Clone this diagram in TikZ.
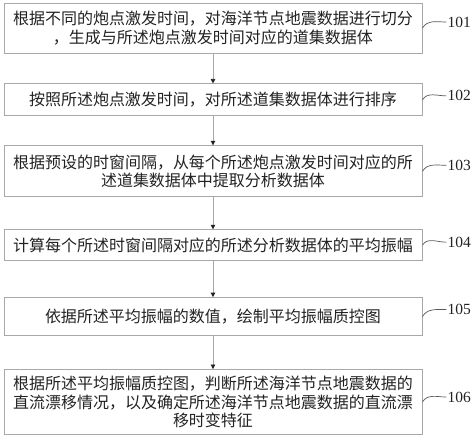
\documentclass[tikz,border=0pt]{standalone}
\usepackage{fontspec}
\setmainfont{Liberation Serif}
\newfontfamily\cjk{Noto Sans CJK SC}
\usetikzlibrary{positioning,arrows.meta}
\definecolor{boxgray}{HTML}{A8A8A8}
\definecolor{inkgray}{HTML}{222222}
\tikzstyle{stepbox} = [rectangle, minimum width = 418pt, text width = 404pt, align = center, inner sep = 0pt, draw = boxgray, line width = 0.9pt, text = inkgray, font = \cjk\fontsize{16}{18.5}\selectfont]
\tikzstyle{arrow} = [draw = boxgray, line width = 0.7pt, -{Triangle[length=4.5pt,width=4.5pt,color=inkgray]}]
\tikzstyle{tag} = [inner sep = 1pt, text = inkgray, font = \fontsize{15.5}{15.5}\selectfont]
\tikzstyle{leader} = [draw = inkgray!75, line width = 0.7pt]

\begin{document}
\begin{tikzpicture}
        	\useasboundingbox (0,0) rectangle (474pt,-434pt);

        	\node[stepbox, minimum height = 50pt] at (213pt,-28pt) (step 1){根据不同的炮点激发时间，对海洋节点地震数据进行切分\\，生成与所述炮点激发时间对应的道集数据体};
        	\node[stepbox, minimum height = 32pt, below = 30pt of step 1](step 2){按照所述炮点激发时间，对所述道集数据体进行排序};
        	\node[stepbox, minimum height = 51pt, below = 29pt of step 2](step 3){根据预设的时窗间隔，从每个所述炮点激发时间对应的所\\述道集数据体中提取分析数据体};
        	\node[stepbox, minimum height = 31pt, below = 32pt of step 3](step 4){计算每个所述时窗间隔对应的所述分析数据体的平均振幅};
        	\node[stepbox, minimum height = 38pt, below = 36pt of step 4](step 5){依据所述平均振幅的数值，绘制平均振幅质控图};
        	\node[stepbox, minimum height = 65pt, below = 33pt of step 5](step 6){根据所述平均振幅质控图，判断所述海洋节点地震数据的\\直流漂移情况，以及确定所述海洋节点地震数据的直流漂\\移时变特征};

        	\node[tag, right = 24pt of step 1, yshift = 6pt](tag 1){101};
        	\node[tag, right = 24pt of step 2, yshift = 4pt](tag 2){102};
        	\node[tag, right = 24pt of step 3, yshift = 6pt](tag 3){103};
        	\node[tag, right = 24pt of step 4, yshift = 3pt](tag 4){104};
        	\node[tag, right = 24pt of step 5, yshift = 7pt](tag 5){105};
        	\node[tag, right = 24pt of step 6, yshift = 5pt](tag 6){106};

        	\draw [arrow](step 1)--(step 2);
        	\draw [arrow](step 2)--(step 3);
        	\draw [arrow](step 3)--(step 4);
        	\draw [arrow](step 4)--(step 5);
        	\draw [arrow](step 5)--(step 6);

        	\draw [leader](step 1.east) to[out=60,in=180] (tag 1.west);
        	\draw [leader](step 2.east) to[out=60,in=180] (tag 2.west);
        	\draw [leader](step 3.east) to[out=60,in=180] (tag 3.west);
        	\draw [leader](step 4.east) to[out=60,in=180] (tag 4.west);
        	\draw [leader](step 5.east) to[out=60,in=180] (tag 5.west);
        	\draw [leader](step 6.east) to[out=60,in=180] (tag 6.west);

\end{tikzpicture}
\end{document}
